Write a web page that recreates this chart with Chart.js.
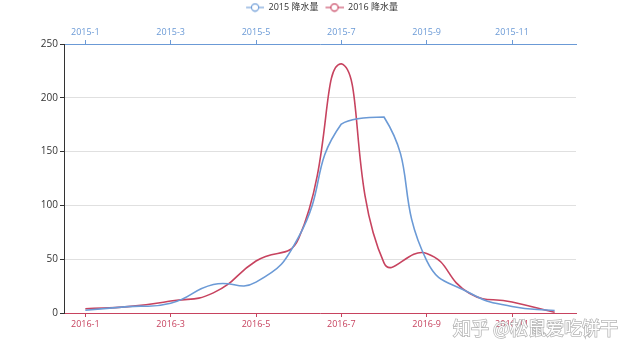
<!DOCTYPE html>
<html><head><meta charset="utf-8">
<script src="https://cdn.jsdelivr.net/npm/chart.js@4/dist/chart.umd.min.js"></script>
<style>html,body{margin:0;padding:0;background:#fff}#wrap{width:640px;height:356px}</style>
</head><body><div id="wrap"><canvas id="c" width="640" height="356"></canvas></div>
<script>
const months2016 = ['2016-1','2016-2','2016-3','2016-4','2016-5','2016-6','2016-7','2016-8','2016-9','2016-10','2016-11','2016-12'];
const months2015 = ['2015-1','2015-2','2015-3','2015-4','2015-5','2015-6','2015-7','2015-8','2015-9','2015-10','2015-11','2015-12'];
const rain2015 = [2.6, 5.9, 9.0, 26.4, 28.7, 70.7, 175.6, 182.2, 48.7, 18.8, 6.0, 2.3];
const rain2016 = [3.9, 5.9, 11.1, 18.7, 48.3, 69.2, 231.6, 46.6, 55.4, 18.4, 10.3, 0.7];
const yTicks = [0, 50, 100, 150, 200, 250];
const names = ['2015 降水量', '2016 降水量'];

const BLUE = '#6b9ad6', RED = '#c7435f';
const FONT = "'Open Sans', 'Noto Sans CJK SC', sans-serif";
const FS = 9;

function legendIcon(color){
  const c = document.createElement('canvas');
  c.width = 22; c.height = 10;
  const g = c.getContext('2d');
  g.strokeStyle = color; g.lineWidth = 1.1;
  g.beginPath(); g.moveTo(4,5); g.lineTo(22,5); g.stroke();
  g.fillStyle = '#fff';
  g.beginPath(); g.arc(13,5,3.6,0,Math.PI*2); g.fill(); g.stroke();
  return c;
}

const clampCp = {
  id:'clampCp',
  beforeDatasetsDraw(chart){
    chart.data.datasets.forEach((ds,i)=>{
      const meta = chart.getDatasetMeta(i);
      const line = meta.dataset;
      if(!line) return;
      line._pointsUpdated = false;
      line.updateControlPoints(chart.chartArea, 'x');
      const pts = meta.data;
      let minX=Infinity,maxX=-Infinity,minY=Infinity,maxY=-Infinity;
      pts.forEach(p=>{minX=Math.min(minX,p.x);maxX=Math.max(maxX,p.x);minY=Math.min(minY,p.y);maxY=Math.max(maxY,p.y);});
      const cl=(v,a,b)=>Math.max(a,Math.min(b,v));
      pts.forEach(p=>{
        if(p.cp1x!==undefined){p.cp1x=cl(p.cp1x,minX,maxX);p.cp1y=cl(p.cp1y,minY,maxY);}
        if(p.cp2x!==undefined){p.cp2x=cl(p.cp2x,minX,maxX);p.cp2y=cl(p.cp2y,minY,maxY);}
      });
      line._path = undefined;
    });
  }
};

const watermark = {
  id:'watermark',
  afterDraw(chart){
    const g = chart.ctx;
    g.save();
    g.font = "18px 'Noto Sans CJK SC', sans-serif";
    g.textBaseline = 'middle';
    g.lineWidth = 1.5;
    g.strokeStyle = 'rgba(160,160,160,0.8)';
    g.fillStyle = '#ffffff';
    const t = '知乎 @松鼠爱吃饼干';
    g.strokeText(t, 453, 328);
    g.fillText(t, 453, 328);
    g.restore();
  }
};

new Chart(document.getElementById('c'), {
  type:'line',
  data:{
    labels: months2016,
    datasets:[
      {label:names[0], data:rain2015, xAxisID:'xTop', borderColor:BLUE, backgroundColor:BLUE, borderWidth:1.6, pointRadius:0, tension:0.5, pointStyle:legendIcon(BLUE)},
      {label:names[1], data:rain2016, xAxisID:'x', borderColor:RED, backgroundColor:RED, borderWidth:1.6, pointRadius:0, tension:0.5, pointStyle:legendIcon(RED)}
    ]
  },
  options:{
    responsive:false, animation:false,
    layout:{padding:0},
    plugins:{
      legend:{position:'top', labels:{usePointStyle:true, pointStyleWidth:22, font:{size:FS,family:FONT}, color:'#333', padding:3, boxHeight:8}},
      tooltip:{enabled:false}
    },
    scales:{
      x:{
        type:'category', position:'bottom', offset:true,
        border:{color:RED, width:1},
        grid:{drawOnChartArea:false, offset:false, tickLength:4, tickColor:(ctx)=> ctx.index%2 ? 'rgba(0,0,0,0)' : RED},
        ticks:{color:RED, font:{size:FS,family:FONT}, maxRotation:0, autoSkip:false, padding:2,
          callback:function(v,i){return i%2===0 ? months2016[i] : '';}},
        afterFit(s){s.height = 43;}
      },
      xTop:{
        type:'category', position:'top', offset:true, labels: months2015,
        border:{color:BLUE, width:1},
        grid:{drawOnChartArea:false, offset:false, tickLength:4, tickColor:(ctx)=> ctx.index%2 ? 'rgba(0,0,0,0)' : BLUE},
        ticks:{color:BLUE, font:{size:FS,family:FONT}, maxRotation:0, autoSkip:false, padding:2,
          callback:function(v,i){return i%2===0 ? months2015[i] : '';}},
        afterFit(s){s.height = 22;}
      },
      y:{
        min:0, max:250,
        afterBuildTicks(s){s.ticks = yTicks.map(v=>({value:v}));},
        afterFit(s){s.width = 64;},
        border:{color:'#333', width:1},
        grid:{color:'#e0e0e0', tickColor:'#333', tickLength:4},
        ticks:{color:'#333', font:{size:FS+1,family:FONT}, padding:2}
      },
      yRight:{
        position:'right', min:0, max:250,
        afterFit(s){s.width = 64;},
        border:{display:false},
        grid:{display:false, drawOnChartArea:false},
        ticks:{display:false}
      }
    }
  },
  plugins:[clampCp, watermark]
});
</script></body></html>
